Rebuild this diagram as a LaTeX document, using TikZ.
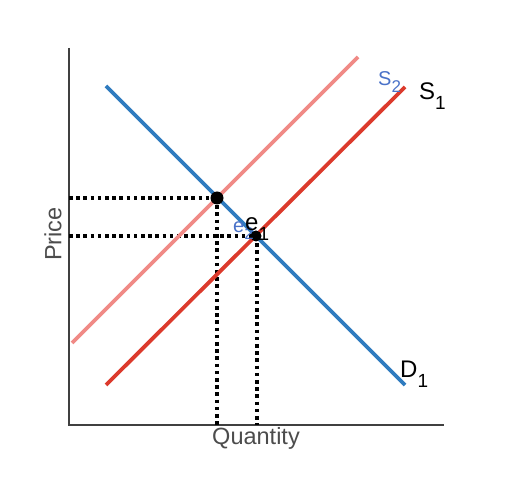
\documentclass[tikz,border=0pt]{standalone}
\usepackage{fontspec}
\setmainfont{Liberation Sans}
\begin{document}
\begin{tikzpicture}[x=1pt,y=-1pt,
  axis/.style={draw=black!75, line width=1.5pt},
  curve/.style={line width=3.8pt},
  guide/.style={line width=3.6pt, dash pattern=on 3.6pt off 3.6pt, black},
  lbl/.style={font=\fontsize{24}{24}\selectfont, inner sep=0pt, anchor=base west},
  slbl/.style={font=\fontsize{20}{20}\selectfont, inner sep=0pt, anchor=base west, text=lblue},
  axlbl/.style={font=\fontsize{23.5}{23.5}\selectfont, text=black!70, inner sep=0pt}]
\definecolor{dblue}{HTML}{2F7BBF}
\definecolor{sred}{HTML}{DC3A2C}
\definecolor{spink}{HTML}{F08A86}
\definecolor{lblue}{HTML}{4A72C8}
\useasboundingbox (0,0) rectangle (512,494);
% axes
\coordinate (ytop) at (69,48);
\coordinate (orig) at (69,425);
\coordinate (xend) at (444,425);
\draw[axis] (ytop) -- (orig) -- (xend);
% guides
\coordinate (p2) at (217,198);
\coordinate (p1) at (256,236);
\coordinate (y2) at (69,198);
\coordinate (y1) at (69,236);
\coordinate (x2) at (217,425);
\coordinate (x1) at (257,425);
\coordinate (p1b) at (257,236);
\draw[guide] (y2) -- (p2);
\draw[guide] (p2) -- (x2);
\draw[guide] (y1) -- (p1);
\draw[guide] (p1b) -- (x1);
% curves
\coordinate (s2a) at (72,343);
\coordinate (s2b) at (358,57);
\coordinate (s1a) at (106,385);
\coordinate (s1b) at (405,87);
\coordinate (da) at (106,86);
\coordinate (db) at (405,385);
\draw[curve, spink] (s2a) -- (s2b);
\draw[curve, sred] (s1a) -- (s1b);
\draw[curve, dblue] (da) -- (db);
% points
\fill (p2) circle (6.5);
\fill (p1) circle (5.5);
% labels
\node[slbl] (ls2) at (378,86) {S\raisebox{-7pt}{\fontsize{17}{17}\selectfont 2}};
\node[lbl] (ls1) at (419,100) {S\raisebox{-10pt}{\fontsize{19}{19}\selectfont 1}};
\node[lbl] (ld1) at (400,378) {D\raisebox{-10pt}{\fontsize{19}{19}\selectfont 1}};
\node[slbl] (le2) at (233,233) {e\raisebox{-7pt}{\fontsize{17}{17}\selectfont 2}};
\node[lbl] (le1) at (245,231) {e\raisebox{-10pt}{\fontsize{19}{19}\selectfont 1}};
\node[axlbl, rotate=90] (lp) at (53,234) {Price};
\node[axlbl] (lq) at (256,438) {Quantity};
\end{tikzpicture}
\end{document}
